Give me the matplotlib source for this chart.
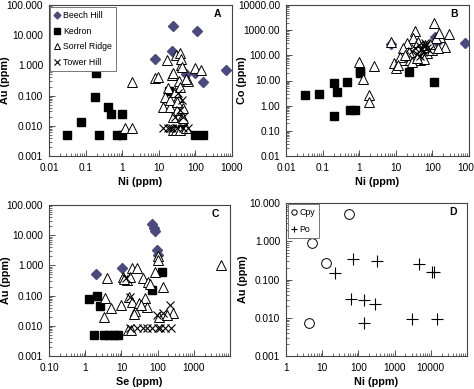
import matplotlib
matplotlib.use('Agg')
import matplotlib.pyplot as plt
from matplotlib.ticker import FixedLocator, FixedFormatter, LogLocator, NullFormatter

plt.rcParams['font.family'] = ['Liberation Sans', 'DejaVu Sans']

# ---------------- Panel A: Au vs Ni ----------------
a_beech_ni = [24.5, 110, 23, 7.9, 700, 55, 98, 162]
a_beech_au = [20, 14, 3.0, 1.6, 0.72, 0.5, 0.55, 0.28]

a_kedron_ni = [0.031, 0.075, 0.19, 0.18, 0.23, 0.41, 0.49, 0.72, 1.0, 1.0, 19, 43, 98, 162]
a_kedron_au = [0.005, 0.0135, 0.56, 0.09, 0.005, 0.042, 0.025, 0.005, 0.005, 0.025, 0.14, 0.008, 0.005, 0.005]

a_sorrel_ni = [1.9, 1.2, 1.9, 7.9, 9.5, 16.7, 29.5, 38, 40.5, 40.5, 43, 23, 24.5, 35.6, 63, 98, 142,
               17.8, 14.8, 33.5, 13, 20, 31.5, 46, 24.5, 43, 20, 27.6, 38, 31.5, 46, 24.5, 29.5, 38, 55, 55]
a_sorrel_au = [0.28, 0.0085, 0.0085, 0.38, 0.42, 1.5, 2.2, 2.6, 1.0, 1.6, 0.89, 0.48, 0.55, 0.31, 0.31, 0.82, 0.72,
               0.18, 0.09, 0.09, 0.042, 0.042, 0.033, 0.039, 0.019, 0.019, 0.07, 0.13, 0.2, 0.06, 0.018, 0.0075, 0.0075, 0.0075, 0.0085, 0.35]

a_tower_ni = [13, 17.8, 23, 31.5, 46, 63, 20, 27.6, 38, 43, 33.5, 46]
a_tower_au = [0.0085, 0.0085, 0.0085, 0.0085, 0.0085, 0.0085, 0.0085, 0.019, 0.033, 0.07, 0.12, 0.019]

# ---------------- Panel B: Co vs Ni ----------------
b_beech_ni = [7.4, 115, 130, 800]
b_beech_co = [280, 550, 335, 300]

b_kedron_ni = [0.033, 0.08, 0.2, 0.25, 0.2, 0.46, 0.56, 0.77, 1.05, 1.05, 23, 110]
b_kedron_co = [2.6, 2.9, 7.9, 3.4, 0.39, 8.6, 0.65, 0.7, 24, 19, 22, 8.5]

b_sorrel_ni = [1.0, 2.5, 1.26, 1.9, 1.9, 110, 280, 7.4, 8.9, 10, 15.8, 23, 33.5, 29.5, 20, 15.8, 40.5,
               52, 71, 76, 98, 162, 46, 24.5, 13, 125, 151, 59, 27.6, 38, 11.4, 17.8, 63, 86, 220, 142]
b_sorrel_co = [54, 37, 11.4, 2.6, 1.4, 1900, 690, 335, 49, 31, 65, 134, 910, 480, 300, 190, 335,
               100, 120, 210, 160, 530, 65, 65, 85, 500, 760, 70, 55, 80, 40, 100, 250, 280, 220, 200]

b_tower_ni = [28, 33, 38, 43, 50, 58, 65, 72, 80, 45, 55, 62]
b_tower_co = [150, 200, 110, 250, 180, 230, 260, 200, 170, 90, 140, 300]

# ---------------- Panel C: Au vs Se ----------------
c_beech_se = [2.0, 10.4, 71, 80, 85, 96, 100]
c_beech_au = [0.53, 0.82, 23, 17, 14, 3.2, 2.2]

c_kedron_se = [1.27, 2.1, 2.6, 1.7, 3.4, 4.6, 6.2, 8.2, 133, 71]
c_kedron_au = [0.077, 0.097, 0.045, 0.005, 0.005, 0.005, 0.005, 0.005, 0.6, 0.155]

c_sorrel_se = [4.0, 3.5, 5.1, 3.3, 9.7, 11, 14, 19.5, 27, 17, 16, 19.5, 24, 22, 30, 40, 55, 61, 45, 51,
               85, 141, 110, 270, 180, 5600, 15, 19, 100, 105, 12, 35]
c_sorrel_au = [0.38, 0.085, 0.039, 0.019, 0.049, 0.41, 0.32, 0.82, 0.82, 0.41, 0.089, 0.062, 0.03, 0.024, 0.057,
               0.38, 0.28, 0.24, 0.083, 0.042, 0.6, 0.19, 0.019, 0.026, 0.023, 1.0, 0.007, 0.007, 2.0, 1.5, 0.35, 0.05]

c_tower_se = [17, 27, 40, 50, 70, 100, 120, 160, 240, 220, 140, 95, 13, 17]
c_tower_au = [0.0085, 0.0085, 0.0085, 0.0085, 0.0085, 0.0085, 0.0085, 0.0085, 0.0085, 0.049, 0.026, 0.023, 0.38, 0.09]

# ---------------- Panel D: Au vs Ni (minerals) ----------------
d_cpy_ni = [55, 5.2, 12.7, 4.3]
d_cpy_au = [5.2, 0.9, 0.27, 0.0073]

d_po_ni = [22.6, 71, 325, 4700, 10800, 12000, 63, 142, 290, 142, 3000, 14800]
d_po_au = [0.148, 0.34, 0.30, 0.25, 0.157, 0.16, 0.031, 0.029, 0.023, 0.0073, 0.0093, 0.0093]

# ---------------- figure ----------------
W, H = 474, 389
fig = plt.figure(figsize=(W / 100, H / 100), dpi=100)


def add_ax(l, r, t, b):
    return fig.add_axes([l / W, 1 - b / H, (r - l) / W, (b - t) / H])


axA = add_ax(49, 232, 5, 156)
axB = add_ax(286, 469, 5, 156)
axC = add_ax(49, 230, 205, 356)
axD = add_ax(286, 467, 203, 356)

DIA = dict(marker='D', ms=5.0, color='#4b4a7e', mec='#4b4a7e', ls='none')
SQ = dict(marker='s', ms=6.2, color='black', mec='black', ls='none')
TRI = dict(marker='^', ms=7.0, mfc='white', mec='black', mew=0.7, ls='none')
XX = dict(marker='x', ms=6.3, color='black', mew=0.8, ls='none')

TICK_FS = 7.3
LAB_FS = 7.8


def style(ax, xlim, ylim, xticks, xlabels, yticks, ylabels, xlabel, ylabel, letter):
    ax.set_xscale('log')
    ax.set_yscale('log')
    ax.set_xlim(*xlim)
    ax.set_ylim(*ylim)
    ax.xaxis.set_major_locator(FixedLocator(xticks))
    ax.xaxis.set_major_formatter(FixedFormatter(xlabels))
    ax.yaxis.set_major_locator(FixedLocator(yticks))
    ax.yaxis.set_major_formatter(FixedFormatter(ylabels))
    ax.xaxis.set_minor_locator(LogLocator(base=10, subs=range(2, 10), numticks=20))
    ax.yaxis.set_minor_locator(LogLocator(base=10, subs=range(2, 10), numticks=20))
    ax.xaxis.set_minor_formatter(NullFormatter())
    ax.yaxis.set_minor_formatter(NullFormatter())
    ax.tick_params(which='major', direction='in', length=4, width=0.6, labelsize=TICK_FS, color='#333333')
    ax.tick_params(which='minor', direction='in', length=2.2, width=0.5, color='#333333')
    ax.tick_params(axis='x', which='major', pad=5)
    ax.tick_params(axis='y', which='major', pad=4.3)
    for s in ax.spines.values():
        s.set_color('#444444')
        s.set_linewidth(0.8)
    ax.set_xlabel(xlabel, fontsize=LAB_FS, fontweight='bold', labelpad=3)
    ax.set_ylabel(ylabel, fontsize=LAB_FS, fontweight='bold')
    ax.yaxis.set_label_coords(-0.212, 0.5)
    ax.text(0.92, 0.94, letter, transform=ax.transAxes, fontsize=7.5, fontweight='bold',
            ha='center', va='center')


# Panel A
axA.plot(a_beech_ni, a_beech_au, label='Beech Hill', **DIA)
axA.plot(a_kedron_ni, a_kedron_au, label='Kedron', **SQ)
axA.plot(a_sorrel_ni, a_sorrel_au, label='Sorrel Ridge', **TRI)
axA.plot(a_tower_ni, a_tower_au, label='Tower Hill', **XX)
style(axA, (0.01, 1000), (0.001, 100),
      [0.01, 0.1, 1, 10, 100, 1000], ['0.01', '0.1', '1', '10', '100', '1000'],
      [0.001, 0.01, 0.1, 1, 10, 100], ['0.001', '0.010', '0.100', '1.000', '10.000', '100.000'],
      'Ni (ppm)', 'Au (ppm)', 'A')
legA = axA.legend(loc='upper left', bbox_to_anchor=(0.005, 0.985), fontsize=6.3, frameon=True,
                  fancybox=False, edgecolor='#777777', framealpha=1, handlelength=0.8,
                  handletextpad=0.3, labelspacing=0.75, borderpad=0.45, markerscale=0.7,
                  borderaxespad=0)
legA.get_frame().set_linewidth(0.7)

# Panel B
axB.plot(b_beech_ni, b_beech_co, **DIA)
axB.plot(b_kedron_ni, b_kedron_co, **SQ)
axB.plot(b_sorrel_ni, b_sorrel_co, **TRI)
axB.plot(b_tower_ni, b_tower_co, **XX)
style(axB, (0.01, 1000), (0.01, 10000),
      [0.01, 0.1, 1, 10, 100, 1000], ['0.01', '0.1', '1', '10', '100', '1000'],
      [0.01, 0.1, 1, 10, 100, 1000, 10000], ['0.01', '0.10', '1.00', '10.00', '100.00', '1000.00', '10000.00'],
      'Ni (ppm)', 'Co (ppm)', 'B')

# Panel C
axC.plot(c_beech_se, c_beech_au, **DIA)
axC.plot(c_kedron_se, c_kedron_au, **SQ)
axC.plot(c_sorrel_se, c_sorrel_au, **TRI)
axC.plot(c_tower_se, c_tower_au, **XX)
style(axC, (0.1, 10000), (0.001, 100),
      [0.1, 1, 10, 100, 1000, 10000], ['0.10', '1', '10', '100', '1000', ''],
      [0.001, 0.01, 0.1, 1, 10, 100], ['0.001', '0.010', '0.100', '1.000', '10.000', '100.000'],
      'Se (ppm)', 'Au (ppm)', 'C')

# Panel D
axD.plot(d_cpy_ni, d_cpy_au, label='Cpy', marker='o', ms=7.0, mfc='white', mec='black', mew=0.7, ls='none')
axD.plot(d_po_ni, d_po_au, label='Po', marker='+', ms=8.5, color='black', mew=0.8, ls='none')
style(axD, (1, 100000), (0.001, 10),
      [1, 10, 100, 1000, 10000, 100000], ['1', '10', '100', '1000', '10000', ''],
      [0.001, 0.01, 0.1, 1, 10], ['0.001', '0.010', '0.100', '1.000', '10.000'],
      'Ni (ppm)', 'Au (ppm)', 'D')
legD = axD.legend(loc='upper left', bbox_to_anchor=(0.01, 0.995), fontsize=6.3, frameon=True,
                  fancybox=False, edgecolor='#777777', framealpha=1, handlelength=0.6,
                  handletextpad=0.3, labelspacing=0.9, borderpad=0.45, markerscale=0.55,
                  borderaxespad=0)
legD.get_frame().set_linewidth(0.7)

fig.savefig('out.png', dpi=100)
